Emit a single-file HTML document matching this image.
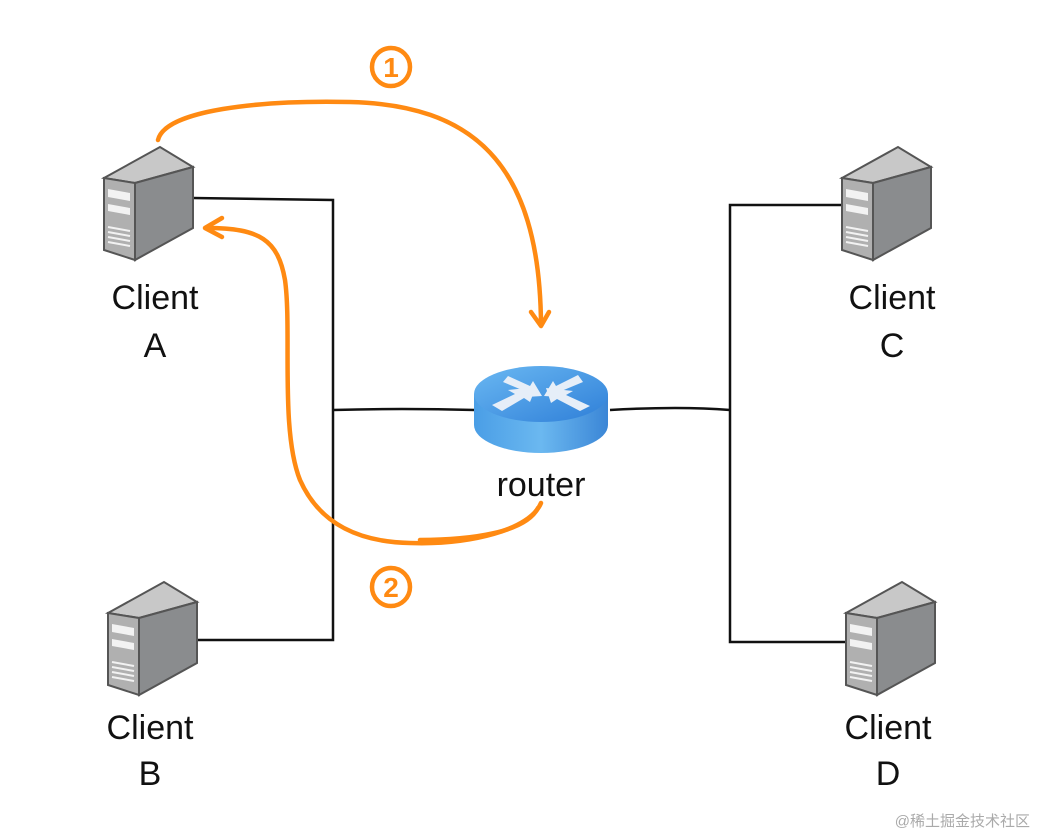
<!DOCTYPE html>
<html><head><meta charset="utf-8"><style>
html,body{margin:0;padding:0;background:#fff;}
svg{display:block}
text{font-family:"Liberation Sans","DejaVu Sans",sans-serif;}
</style></head><body>
<svg width="1040" height="836" viewBox="0 0 1040 836" xmlns="http://www.w3.org/2000/svg">
<defs>
<linearGradient id="rt" x1="0" y1="0" x2="1" y2="0">
<stop offset="0" stop-color="#4a9ee6"/><stop offset="0.5" stop-color="#6bb8f0"/><stop offset="1" stop-color="#3b86d6"/></linearGradient>
<linearGradient id="rtop" x1="0" y1="0" x2="1" y2="1">
<stop offset="0" stop-color="#6ab8f2"/><stop offset="1" stop-color="#2f7fd8"/></linearGradient>
<g id="srv">
<path d="M0,31 L56,0 L89,20 L31,36 Z" fill="#c8c8c8" stroke="#555" stroke-width="2"/>
<path d="M31,36 L89,20 L89,81 L31,113 Z" fill="#8a8c8e" stroke="#555" stroke-width="2"/>
<path d="M0,31 L31,36 L31,113 L0,103 Z" fill="#b0b0b0" stroke="#555" stroke-width="2"/>
<path d="M4,42 L26,46 L26,54 L4,50 Z M4,57 L26,61 L26,68 L4,64 Z" fill="#f2f2f2"/>
<path d="M4,80 L26,84 M4,85 L26,89 M4,90 L26,94 M4,95 L26,99" stroke="#f2f2f2" stroke-width="2"/>
</g>
</defs>
<g fill="none" stroke="#111" stroke-width="2.5">
<path d="M193,198 Q260,199 333,200 L333,640 L193,640"/>
<path d="M333,410 Q400,408 475,410"/>
<path d="M610,410 Q680,406 730,410"/>
<path d="M842,205 L730,205 L730,642 L846,642"/>
</g>
<use href="#srv" x="104" y="147"/>
<use href="#srv" x="108" y="582"/>
<use href="#srv" x="842" y="147"/>
<use href="#srv" x="846" y="582"/>
<ellipse cx="541" cy="425" rx="67" ry="28" fill="url(#rt)"/>
<rect x="474" y="394" width="134" height="31" fill="url(#rt)"/>
<ellipse cx="541" cy="394" rx="67" ry="28" fill="url(#rtop)"/>
<g fill="#e6eef8">
<path d="M492,405 L515,394 L508,390 L536,387 L530,402 L524,398 L502,411 Z"/>
<path d="M590,406 L566,395 L573,391 L546,388 L551,403 L557,399 L580,411 Z"/>
<path d="M508,376 L530,386 L533,381 L542,396 L526,397 L527,392 L503,382 Z"/>
<path d="M578,375 L556,386 L553,381 L544,396 L560,397 L559,392 L583,382 Z"/>
</g>
<g font-size="34" fill="#111" text-anchor="middle">
<text x="155" y="309">Client</text><text x="155" y="357">A</text>
<text x="150" y="739">Client</text><text x="150" y="785">B</text>
<text x="892" y="309">Client</text><text x="892" y="357">C</text>
<text x="888" y="739">Client</text><text x="888" y="785">D</text>
<text x="541" y="496">router</text>
</g>
<g fill="none" stroke="#ff8a12" stroke-width="4.5" stroke-linecap="round" stroke-linejoin="round">
<path d="M158,140 C165,110 260,100 350,102 C470,105 540,160 541,325"/>
<path d="M531,312 L541,326 L549,312"/>
<path d="M541,503 C530,530 470,545 410,543 C360,542 320,525 300,480 C280,430 292,330 285,280 C278,240 260,228 207,228"/>
<path d="M538,508 C525,533 470,540 420,540"/>
<path d="M222,218 L205,228 L222,237"/>
<circle cx="391" cy="67" r="19"/>
<circle cx="391" cy="587" r="19"/>
</g>
<g font-size="28" font-weight="bold" fill="#ff8a12" text-anchor="middle">
<text x="391" y="77">1</text><text x="391" y="597">2</text>
</g>
<text x="1030" y="826" font-size="15" fill="#aaa" text-anchor="end" style='font-family:"Liberation Sans","Noto Sans CJK SC",sans-serif'>@稀土掘金技术社区</text>
</svg>
</body></html>
